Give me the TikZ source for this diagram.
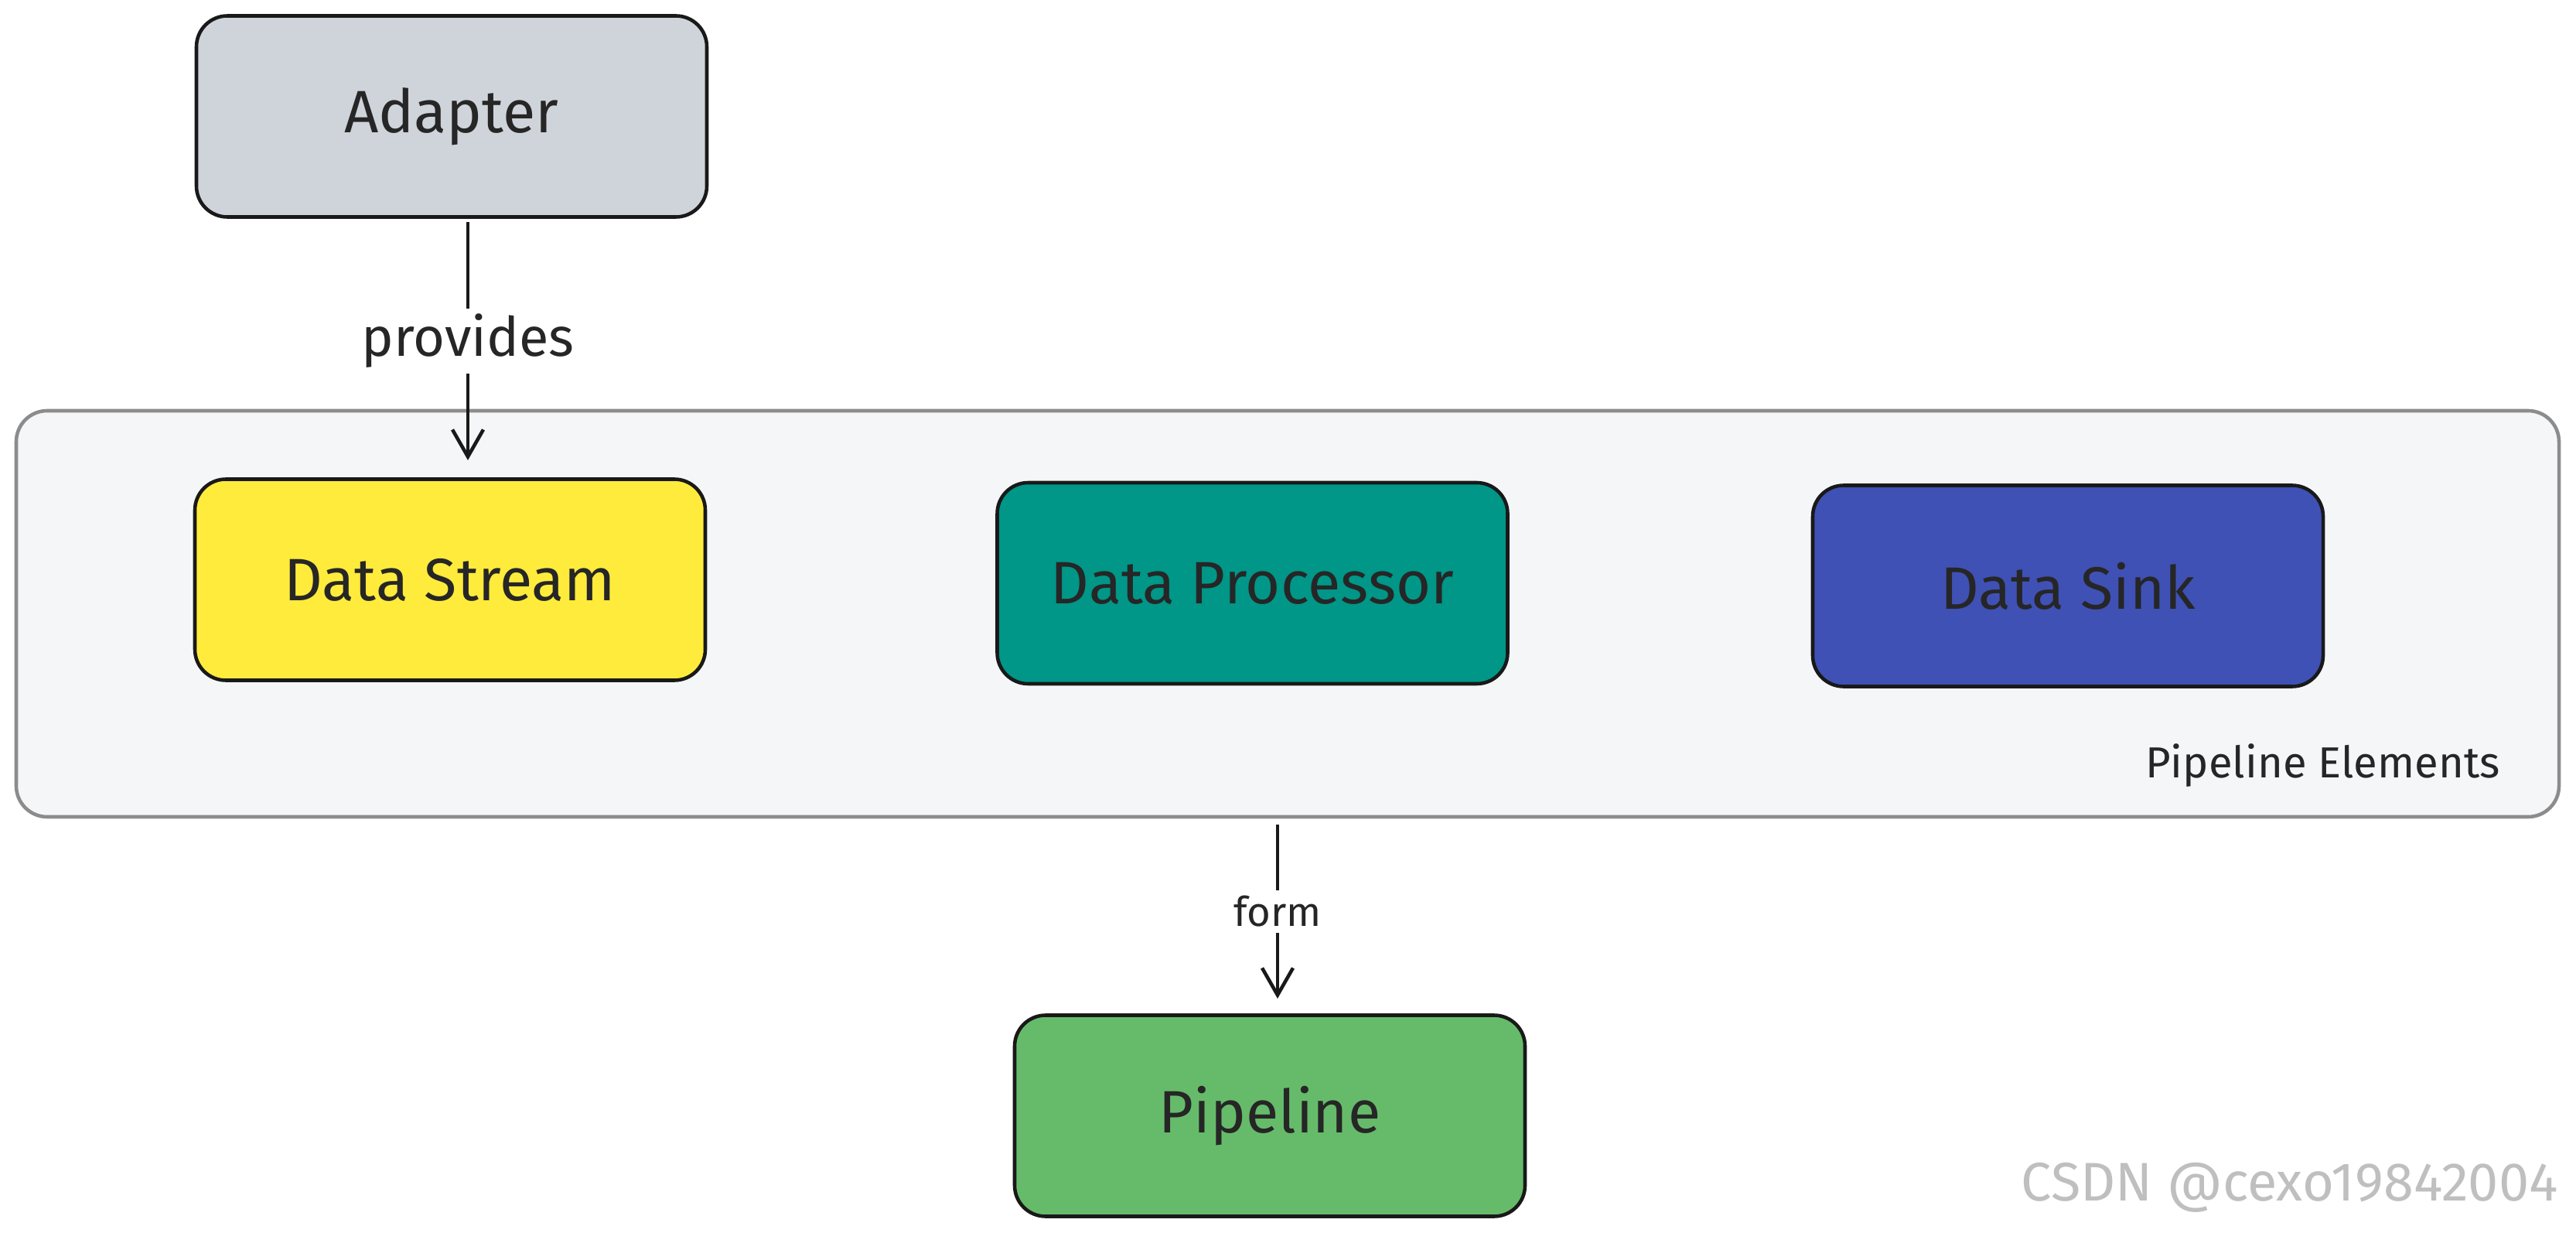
\documentclass[tikz,border=0pt]{standalone}
\usepackage{fontspec}
\setmainfont{Fira Sans}
\usetikzlibrary{arrows.meta}
\definecolor{cgray}{HTML}{CED4DA}
\definecolor{cbg}{HTML}{F5F6F8}
\definecolor{cyel}{HTML}{FFEB3B}
\definecolor{cteal}{HTML}{009688}
\definecolor{cblue}{HTML}{3F51B5}
\definecolor{cgreen}{HTML}{66BB6A}
\tikzset{
 box/.style={draw=black!90,line width=1.3pt,rounded corners=0.4cm,minimum width=6.6cm,minimum height=2.6cm,font=\fontsize{22}{26}\selectfont,text=black!85},
 arr/.style={draw=black!90,line width=1.3pt,-{Straight Barb[length=0.35cm,width=0.4cm]}},
 lbl/.style={fill=white,inner sep=2pt,text=black!85}
}
\begin{document}
\begin{tikzpicture}
\useasboundingbox (0,0) rectangle (33.31,-15.94);
\fill[white] (0,0) rectangle (33.31,-15.94);
\node[draw=black!45,line width=1.3pt,fill=cbg,rounded corners=0.4cm,minimum width=32.88cm,minimum height=5.25cm] (cont) at (16.65,-7.935) {};
\node[box,fill=cgray] (ad) at (5.84,-1.505) {Adapter};
\node[box,fill=cyel] (ds) at (5.82,-7.495) {Data Stream};
\node[box,fill=cteal] (dp) at (16.195,-7.54) {Data Processor};
\node[box,fill=cblue] (dk) at (26.74,-7.575) {Data Sink};
\node[box,fill=cgreen] (pl) at (16.42,-14.425) {Pipeline};
\node[anchor=east,font=\fontsize{16}{19}\selectfont,text=black!85] (pe) at (32.45,-9.9) {Pipeline Elements};
\coordinate (a1) at (6.05,-2.87);
\coordinate (a2) at (6.05,-5.95);
\draw[arr] (a1) -- node[lbl,font=\fontsize{20}{24}\selectfont] (prov) {provides} (a2);
\coordinate (b1) at (16.52,-10.66);
\coordinate (b2) at (16.52,-12.91);
\draw[arr] (b1) -- node[lbl,font=\fontsize{15}{18}\selectfont] (form) {form} (b2);
\node[anchor=east,font=\fontsize{20}{24}\selectfont,text=black!25] (wm) at (33.2,-15.35) {CSDN @cexo19842004};
\end{tikzpicture}
\end{document}
